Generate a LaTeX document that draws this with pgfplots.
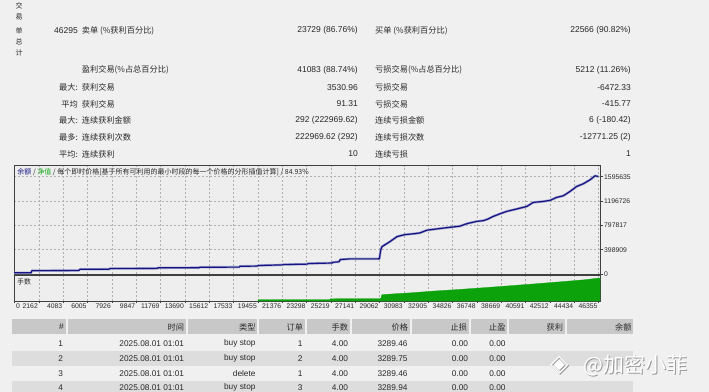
\documentclass[border=0pt]{standalone}
\usepackage{fontspec}
\setmainfont{Liberation Sans}
\newfontfamily\cjk{Noto Sans CJK SC}
\newfontfamily\sym{DejaVu Sans}
\usepackage{pgfplots}
\pgfplotsset{compat=1.18}

\definecolor{pagebg}{RGB}{240,240,240}
\definecolor{plotbg}{RGB}{238,238,238}
\definecolor{navy}{RGB}{20,20,130}
\definecolor{eqgreen}{RGB}{20,170,20}
\definecolor{volgreen}{RGB}{12,162,12}
\definecolor{headbg}{RGB}{200,200,200}
\definecolor{rowdark}{RGB}{221,221,221}
\definecolor{txt}{RGB}{40,40,40}
\definecolor{gridc}{RGB}{175,175,175}

\newcommand\T[4][]{\node[inner sep=0pt,text=txt,#1] at (#2bp,-#3bp) {#4};}
\newcommand\fa{\fontsize{8.5bp}{10bp}\selectfont}
\newcommand\fc{\cjk\fontsize{8.2bp}{10bp}\selectfont}
\newcommand\ft{\fontsize{8.3bp}{10bp}\selectfont}
\newcommand\tickfont{\fontsize{6.8bp}{8bp}\selectfont}

\begin{document}
\begin{tikzpicture}
\path[use as bounding box, fill=pagebg] (0,0) rectangle (709bp,-392bp);

% ---------- summary block ----------
\T[anchor=center,font=\cjk\fontsize{7bp}{8bp}\selectfont]{19}{6}{交}
\T[anchor=center,font=\cjk\fontsize{7bp}{8bp}\selectfont]{19}{16.7}{易}
\T[anchor=center,font=\cjk\fontsize{7bp}{8bp}\selectfont]{19}{30.7}{单}
\T[anchor=center,font=\cjk\fontsize{7bp}{8bp}\selectfont]{19}{41.7}{总}
\T[anchor=center,font=\cjk\fontsize{7bp}{8bp}\selectfont]{19}{52.7}{计}

\T[anchor=east,font=\fa]{78}{30.7}{46295}
\T[anchor=west,font=\fc]{81.7}{30.7}{卖单 (\%获利百分比)}
\T[anchor=east,font=\fa]{358}{30.7}{23729 (86.76\%)}
\T[anchor=west,font=\fc]{375}{30.7}{买单 (\%获利百分比)}
\T[anchor=east,font=\fa]{631}{30.7}{22566 (90.82\%)}

\T[anchor=west,font=\fc]{81.7}{70}{盈利交易(\%占总百分比)}
\T[anchor=east,font=\fa]{358}{70}{41083 (88.74\%)}
\T[anchor=west,font=\fc]{375}{70}{亏损交易(\%占总百分比)}
\T[anchor=east,font=\fa]{631}{70}{5212 (11.26\%)}

\T[anchor=east,font=\fc]{78}{87.3}{最大:}
\T[anchor=west,font=\fc]{81.7}{87.3}{获利交易}
\T[anchor=east,font=\fa]{358}{87.3}{3530.96}
\T[anchor=west,font=\fc]{375}{87.3}{亏损交易}
\T[anchor=east,font=\fa]{631}{87.3}{-6472.33}

\T[anchor=east,font=\fc]{78}{104}{平均}
\T[anchor=west,font=\fc]{81.7}{104}{获利交易}
\T[anchor=east,font=\fa]{358}{104}{91.31}
\T[anchor=west,font=\fc]{375}{104}{亏损交易}
\T[anchor=east,font=\fa]{631}{104}{-415.77}

\T[anchor=east,font=\fc]{78}{120.7}{最大:}
\T[anchor=west,font=\fc]{81.7}{120.7}{连续获利金额}
\T[anchor=east,font=\fa]{358}{120.7}{292 (222969.62)}
\T[anchor=west,font=\fc]{375}{120.7}{连续亏损金额}
\T[anchor=east,font=\fa]{631}{120.7}{6 (-180.42)}

\T[anchor=east,font=\fc]{78}{137.3}{最多:}
\T[anchor=west,font=\fc]{81.7}{137.3}{连续获利次数}
\T[anchor=east,font=\fa]{358}{137.3}{222969.62 (292)}
\T[anchor=west,font=\fc]{375}{137.3}{连续亏损次数}
\T[anchor=east,font=\fa]{631}{137.3}{-12771.25 (2)}

\T[anchor=east,font=\fc]{78}{154}{平均:}
\T[anchor=west,font=\fc]{81.7}{154}{连续获利}
\T[anchor=east,font=\fa]{358}{154}{10}
\T[anchor=west,font=\fc]{375}{154}{连续亏损}
\T[anchor=east,font=\fa]{631}{154}{1}

% ---------- equity chart ----------
\begin{axis}[
  at={(14bp,-274bp)}, anchor=south west, scale only axis,
  width=586bp, height=108.5bp,
  xmin=187, xmax=46464, ymin=0, ymax=1779000,
  axis background/.style={fill=plotbg},
  axis line style={draw=black!75, line width=0.8bp},
  xtick={2162,4083,6005,7926,9847,11769,13690,15612,17533,19455,21376,23298,25219,27141,29062,30983,32905,34826,36748,38669,40591,42512,44434,46355},
  xticklabels={}, scaled x ticks=false,
  ytick={0,398909,797817,1196726,1595635},
  yticklabels={0,398909,797817,1196726,1595635},
  ytick pos=right, yticklabel pos=right, scaled y ticks=false,
  grid=major, grid style={gridc, dash pattern=on 2bp off 2bp, line width=0.45bp},
  tick align=outside, major tick length=3bp,
  tick style={black!75, line width=0.5bp},
  xtick style={draw=none},
  yticklabel style={font=\tickfont, text=txt, inner sep=1bp},
]
\addplot[navy!40, line width=2.4bp, line join=round] coordinates {
(187,19600) (1540,19600) (1600,55000) (5300,57000) (5400,78000) (7700,79000) (7770,90000) (11500,92000) (11560,101000) (14800,104000) (14880,111000) (17950,113000) (18040,127000) (19400,130000) (19460,139000) (21400,150000) (21450,155000) (23350,162000) (23420,172000) (25300,180000) (25400,193000) (25850,200000) (25950,237000) (26700,248000) (29040,248500) (29150,400000) (29247,449000) (29563,490000) (29879,531000) (30432,613000) (31064,646000) (31853,662000) (32248,674000) (32801,719000) (34065,752000) (35407,785000) (35960,826000) (36730,863000) (37250,875000) (37600,900000) (38040,945000) (38600,990000) (39100,1027000) (39890,1066000) (40680,1108000) (41200,1174000) (41990,1190000) (42520,1207000) (43040,1256000) (43570,1283000) (44100,1354000) (44620,1435000) (45150,1480000) (45680,1545000) (46070,1610000) (46330,1599000)
};
\addplot[navy, line width=1.2bp, line join=round] coordinates {
(187,19600) (1540,19600) (1600,55000) (5300,57000) (5400,78000) (7700,79000) (7770,90000) (11500,92000) (11560,101000) (14800,104000) (14880,111000) (17950,113000) (18040,127000) (19400,130000) (19460,139000) (21400,150000) (21450,155000) (23350,162000) (23420,172000) (25300,180000) (25400,193000) (25850,200000) (25950,237000) (26700,248000) (29040,248500) (29150,400000) (29247,449000) (29563,490000) (29879,531000) (30432,613000) (31064,646000) (31853,662000) (32248,674000) (32801,719000) (34065,752000) (35407,785000) (35960,826000) (36730,863000) (37250,875000) (37600,900000) (38040,945000) (38600,990000) (39100,1027000) (39890,1066000) (40680,1108000) (41200,1174000) (41990,1190000) (42520,1207000) (43040,1256000) (43570,1283000) (44100,1354000) (44620,1435000) (45150,1480000) (45680,1545000) (46070,1610000) (46330,1599000)
};
\end{axis}

\T[anchor=west,font=\cjk\fontsize{7bp}{8bp}\selectfont]{17.3}{172.3}{{\color{navy}余额} / {\color{eqgreen}净值} / 每个即时价格[基于所有可利用的最小时段的每一个价格的分形插值计算] / 84.93\%}

% ---------- volume chart ----------
\begin{axis}[
  at={(14bp,-301bp)}, anchor=south west, scale only axis,
  width=586bp, height=25.5bp,
  xmin=187, xmax=46464, ymin=0, ymax=25,
  axis background/.style={fill=plotbg},
  axis line style={draw=black!75, line width=0.8bp},
  xtick={2162,4083,6005,7926,9847,11769,13690,15612,17533,19455,21376,23298,25219,27141,29062,30983,32905,34826,36748,38669,40591,42512,44434,46355},
  xticklabels={2162,4083,6005,7926,9847,11769,13690,15612,17533,19455,21376,23298,25219,27141,29062,30983,32905,34826,36748,38669,40591,42512,44434,46355},
  scaled x ticks=false,
  extra x ticks={187}, extra x tick labels={0},
  extra x tick style={grid=none, xticklabel style={anchor=north west, xshift=1bp}},
  ytick=\empty, xtick pos=bottom,
  xmajorgrids, grid style={gridc, dash pattern=on 2bp off 2bp, line width=0.45bp},
  tick align=outside, major tick length=2bp,
  tick style={black!75, line width=0.5bp},
  xticklabel style={font=\tickfont, text=txt, anchor=north east, inner sep=1bp, xshift=0bp},
]
\addplot[fill=volgreen, draw=volgreen, line width=0.3bp] coordinates {
(19456,0) (19456,1.4) (25141,1.4) (25141,2.2) (29150,2.3) (29240,6.2) (30400,7.2) (31500,8.0) (33302,9.7) (35300,11.3) (37249,13.0) (39200,14.8) (41198,16.7) (43200,18.7) (45146,20.7) (46331,22.4) (46464,22.5) (46464,0)
} \closedcycle;
\end{axis}
\T[anchor=west,font=\cjk\fontsize{7bp}{8bp}\selectfont]{17}{282}{手数}

% ---------- table ----------
\foreach \a/\b in {12/65.7, 67.7/186, 187.7/257.3, 259.3/305, 307.3/350, 352/410, 411.5/469, 470.7/507.3, 509.3/565, 566.7/633.3}{
  \fill[headbg] (\a bp,-319.3bp) rectangle (\b bp,-334.3bp);
}
\fill[rowdark] (12bp,-351bp) rectangle (633.3bp,-366bp);
\fill[rowdark] (12bp,-380.7bp) rectangle (633.3bp,-396bp);

\T[anchor=east,font=\fa]{64}{327}{\#}
\T[anchor=east,font=\fc]{184.3}{327}{时间}
\T[anchor=east,font=\fc]{255.7}{327}{类型}
\T[anchor=east,font=\fc]{303.3}{327}{订单}
\T[anchor=east,font=\fc]{348.3}{327}{手数}
\T[anchor=east,font=\fc]{408.3}{327}{价格}
\T[anchor=east,font=\fc]{467.3}{327}{止损}
\T[anchor=east,font=\fc]{505.7}{327}{止盈}
\T[anchor=east,font=\fc]{563.3}{327}{获利}
\T[anchor=east,font=\fc]{631.7}{327}{余额}

\foreach \y/\n/\ty/\o/\p in {343.3/1/buy stop/1/3289.46, 358.5/2/buy stop/2/3289.75, 373.3/3/delete/1/3289.46, 387.5/4/buy stop/3/3289.94}{
  \T[anchor=east,font=\ft]{63.3}{\y}{\n}
  \T[anchor=east,font=\ft]{184.3}{\y}{2025.08.01 01:01}
  \T[anchor=east,font=\ft]{255.7}{\y}{\ty}
  \T[anchor=east,font=\ft]{302.7}{\y}{\o}
  \T[anchor=east,font=\ft]{348.3}{\y}{4.00}
  \T[anchor=east,font=\ft]{407.7}{\y}{\p}
  \T[anchor=east,font=\ft]{468.3}{\y}{0.00}
  \T[anchor=east,font=\ft]{505.7}{\y}{0.00}
}

% ---------- watermark ----------
\node[inner sep=0pt, anchor=west, text=black!40, font=\sym\fontsize{24bp}{26bp}\selectfont] at (551bp,-366bp) {◈};
\node[inner sep=0pt, anchor=west, text=white, font=\sym\fontsize{24bp}{26bp}\selectfont] at (550bp,-365bp) {◈};
\node[inner sep=0pt, anchor=west, text=black!40, font=\cjk\fontsize{21bp}{24bp}\selectfont] at (584bp,-366bp) {@加密小菲};
\node[inner sep=0pt, anchor=west, text=white, font=\cjk\fontsize{21bp}{24bp}\selectfont] at (583bp,-365bp) {@加密小菲};
\end{tikzpicture}
\end{document}
